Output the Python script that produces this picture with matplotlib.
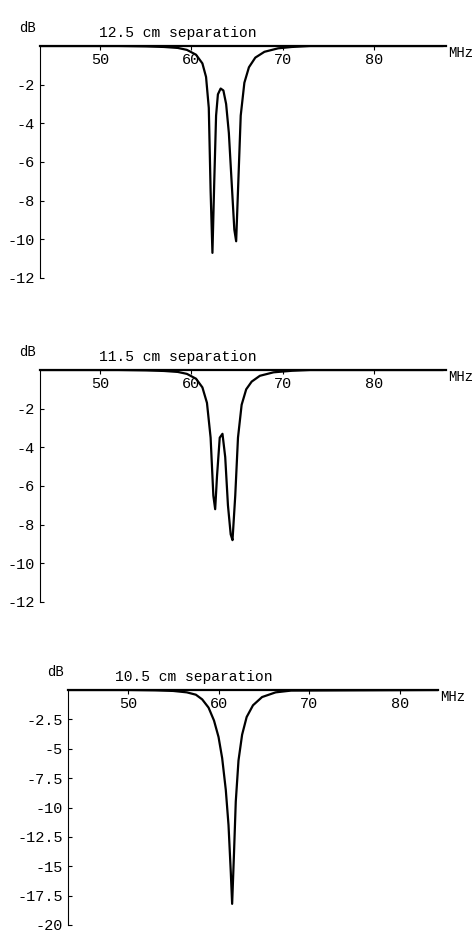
import matplotlib
matplotlib.use("Agg")
import matplotlib.pyplot as plt

# values (MHz, dB)
freq_a = [43.5, 52, 55, 57, 58.5, 59.5, 60.5, 61.2, 61.6, 61.9, 62.1, 62.3, 62.5, 62.7, 62.9, 63.2,
          63.5, 63.8, 64.1, 64.4, 64.7, 64.9, 65.1, 65.4, 65.8, 66.3, 67, 68, 69.5, 71, 73, 87.5]
db_a = [0, 0, -0.02, -0.05, -0.1, -0.2, -0.45, -0.9, -1.6, -3.2, -7.5, -10.7, -7.0, -3.6, -2.5, -2.2,
        -2.3, -3.0, -4.5, -7.0, -9.5, -10.1, -7.5, -3.6, -1.9, -1.1, -0.6, -0.3, -0.12, -0.05, 0, 0]

freq_b = [43.5, 52, 55, 57, 58.5, 59.5, 60.5, 61.2, 61.7, 62.1, 62.4, 62.6, 62.8, 63.1, 63.4,
          63.7, 64.0, 64.3, 64.5, 64.8, 65.1, 65.5, 66, 66.6, 67.5, 69, 71, 73, 87.5]
db_b = [0, 0, -0.02, -0.05, -0.1, -0.2, -0.45, -0.9, -1.7, -3.5, -6.5, -7.2, -5.5, -3.5, -3.3,
        -4.5, -7.0, -8.5, -8.8, -6.5, -3.5, -1.8, -1.0, -0.6, -0.3, -0.12, -0.04, 0, 0]

freq_c = [43.5, 50, 53, 55, 56.5, 57.5, 58.2, 58.9, 59.5, 60.0, 60.4, 60.8, 61.1, 61.35, 61.5,
          61.7, 61.9, 62.2, 62.6, 63.1, 63.8, 64.8, 66.3, 68, 85]
db_c = [0, 0, -0.03, -0.08, -0.2, -0.4, -0.8, -1.5, -2.6, -4.0, -5.8, -8.5, -11.5, -15.5, -18.2,
        -14.0, -9.5, -6.0, -3.8, -2.3, -1.3, -0.6, -0.2, -0.05, 0]

titles = ["12.5 cm separation", "11.5 cm separation", "10.5 cm separation"]
yticks_ab = [-2, -4, -6, -8, -10, -12]
yticks_c = [-2.5, -5, -7.5, -10, -12.5, -15, -17.5, -20]
xticks = [50, 60, 70, 80]

fig = plt.figure(figsize=(4.74, 9.32), dpi=100)
W, H = 474, 932
# curve x, y, title, y ticks, ymin, xmin, xmax, left px, bottom px, right px, top px
panels = [
    (freq_a, db_a, titles[0], yticks_ab, -12, 43.4, 87.9, 40, 278, 446, 46),
    (freq_b, db_b, titles[1], yticks_ab, -12, 43.4, 87.9, 40, 602, 446, 370),
    (freq_c, db_c, titles[2], yticks_c, -20, 43.4, 84.2, 68, 925, 438, 690),
]
plt.rcParams["font.family"] = "Liberation Mono"
for fx, fy, title, yt, ymin, x0, x1, lx, by, rx, ty in panels:
    ax = fig.add_axes([lx / W, 1 - by / H, (rx - lx) / W, (by - ty) / H])
    ax.plot(fx, fy, color="black", lw=1.6)
    ax.set_xlim(x0, x1)
    ax.set_ylim(ymin, 0)
    ax.spines["top"].set_position(("data", 0))
    ax.spines["right"].set_visible(False)
    ax.spines["bottom"].set_visible(False)
    ax.spines["top"].set_linewidth(1.6)
    ax.xaxis.set_ticks_position("top")
    ax.set_xticks(xticks)
    ax.tick_params(axis="x", direction="in", length=3, pad=-15, labelsize=11)
    ax.set_yticks(yt)
    ax.set_yticklabels([f"{v:g}" for v in yt])
    ax.tick_params(axis="y", direction="in", length=3, labelsize=11)
    ax.text(-0.01, 1.06, "dB", transform=ax.transAxes, ha="right", fontsize=10)
    ax.text(1.005, 1.0, "MHz", transform=ax.transAxes, ha="left", va="top", fontsize=10)
    ax.text(0.34, 1.04, title, transform=ax.transAxes, ha="center", fontsize=10.5)

fig.savefig("out.png", dpi=100)
